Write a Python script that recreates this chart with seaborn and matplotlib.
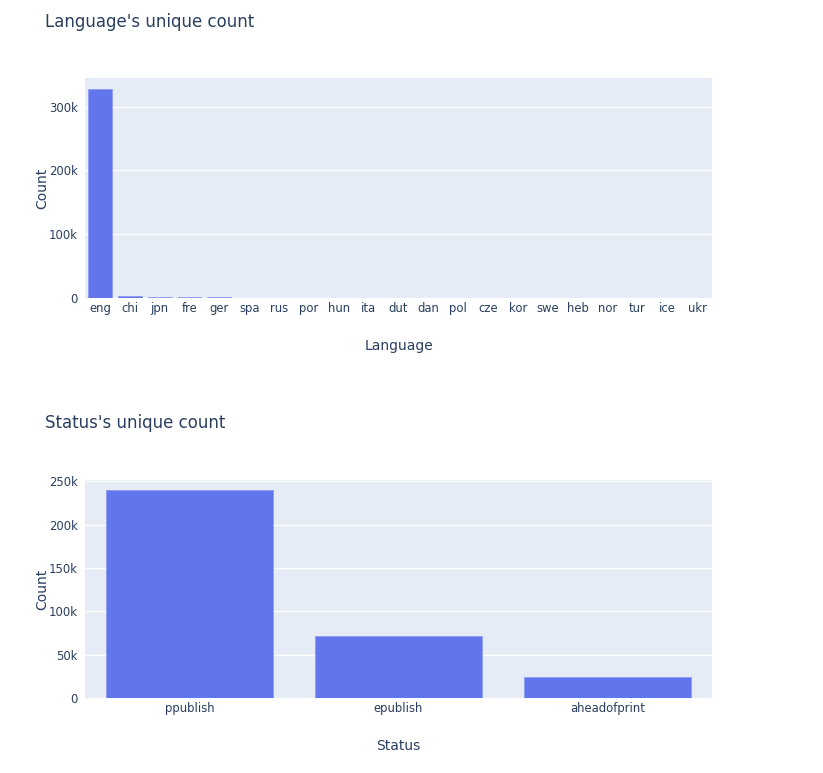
import matplotlib
matplotlib.use("Agg")
import matplotlib.pyplot as plt
import seaborn as sns
import pandas as pd
from matplotlib.ticker import FuncFormatter, MultipleLocator

# -------------------------------
# Data
# -------------------------------
languages = ["eng", "chi", "jpn", "fre", "ger", "spa", "rus", "por", "hun", "ita",
             "dut", "dan", "pol", "cze", "kor", "swe", "heb", "nor", "tur", "ice", "ukr"]
language_counts = [327000, 2800, 2200, 1900, 1700, 500, 350, 300, 250, 200,
                   170, 140, 120, 110, 100, 90, 80, 70, 60, 50, 40]

statuses = ["ppublish", "epublish", "aheadofprint"]
status_counts = [239500, 71500, 24300]

# -------------------------------
# Style
# -------------------------------
BAR = "#6176EB"
EDGE = "#8A96F0"
BG = "#E5ECF6"
TXT = "#2a3f5f"

sns.set_theme(style="darkgrid")
plt.rcParams["font.family"] = ["DejaVu Sans"]


def k_fmt(v, _):
    return "0" if v == 0 else f"{int(round(v / 1000))}k"


def style_axis(ax, xlabel, ylabel, xlabel_y):
    ax.set_facecolor(BG)
    ax.grid(False)
    ax.yaxis.grid(True, color="white", linewidth=1)
    ax.set_axisbelow(True)
    for s in ax.spines.values():
        s.set_visible(False)
    ax.tick_params(axis="both", length=0, labelsize=8.4, colors=TXT)
    ax.tick_params(axis="x", pad=3)
    ax.tick_params(axis="y", pad=5)
    ax.yaxis.set_major_formatter(FuncFormatter(k_fmt))
    ax.set_xlabel(xlabel, fontsize=10, color=TXT, va="center")
    ax.set_ylabel(ylabel, fontsize=10, color=TXT, va="center")
    ax.xaxis.set_label_coords(0.5, xlabel_y)
    ax.yaxis.set_label_coords(-0.0686, 0.5)


fig = plt.figure(figsize=(8.23, 7.73), dpi=100)
fig.patch.set_facecolor("white")

# -------------------------------
# Language subplot
# -------------------------------
ax1 = fig.add_axes([85 / 823, 1 - 298 / 773, 627 / 823, 220 / 773])
lang_df = pd.DataFrame({"Language": languages, "Count": language_counts})
sns.barplot(data=lang_df, x="Language", y="Count", color=BAR, saturation=1,
            width=0.8, edgecolor=EDGE, linewidth=0.5, ax=ax1)
ax1.set_xlim(-0.5, len(languages) - 0.5)
ax1.set_ylim(0, max(language_counts) * 1.055)
ax1.yaxis.set_major_locator(MultipleLocator(100000))
style_axis(ax1, "Language", "Count", (298 - 346) / 220)

fig.text(45 / 823, 1 - 22 / 773, "Language's unique count",
         fontsize=12, color=TXT, ha="left", va="center")

# -------------------------------
# Status subplot
# -------------------------------
ax2 = fig.add_axes([85 / 823, 1 - 698 / 773, 627 / 823, 218 / 773])
status_df = pd.DataFrame({"Status": statuses, "Count": status_counts})
sns.barplot(data=status_df, x="Status", y="Count", color=BAR, saturation=1,
            width=0.8, edgecolor=EDGE, linewidth=0.5, ax=ax2)
ax2.set_xlim(-0.5, len(statuses) - 0.5)
ax2.set_ylim(0, max(status_counts) * 1.05)
ax2.yaxis.set_major_locator(MultipleLocator(50000))
style_axis(ax2, "Status", "Count", (698 - 746) / 218)

fig.text(45 / 823, 1 - 423 / 773, "Status's unique count",
         fontsize=12, color=TXT, ha="left", va="center")

fig.savefig("out.png", dpi=100)
